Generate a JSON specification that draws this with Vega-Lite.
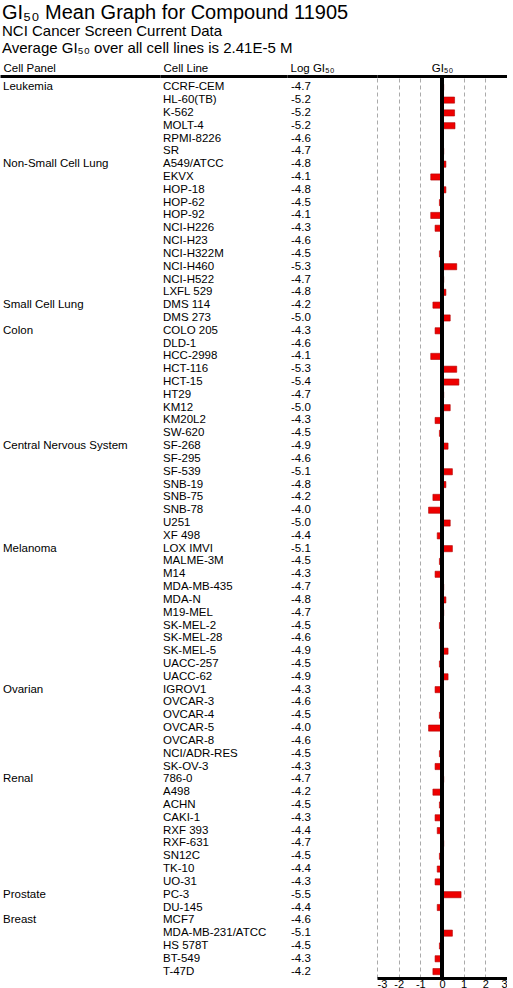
{
  "$schema": "https://vega.github.io/schema/vega-lite/v6.json",
  "description": "GI50 mean graph for compound 11905, NCI cancer screen.",
  "padding": {"left": 0, "right": 0, "top": 3, "bottom": 0},
  "spacing": 0,
  "bounds": "flush",
  "title": {
    "text": "GI₅₀ Mean Graph for Compound 11905",
    "subtitle": ["NCI Cancer Screen Current Data", "Average GI₅₀ over all cell lines is 2.41E-5 M"],
    "anchor": "start",
    "dx": 2,
    "offset": 6,
    "font": "Liberation Sans",
    "fontSize": 20,
    "fontWeight": "normal",
    "color": "black",
    "subtitleFont": "Liberation Sans",
    "subtitleFontSize": 15,
    "subtitleLineHeight": 17,
    "subtitlePadding": 1,
    "subtitleColor": "black"
  },
  "data": {
    "values": [
      {"p": "Leukemia", "c": "CCRF-CEM", "g": -4.7, "d": 0.08},
      {"p": "", "c": "HL-60(TB)", "g": -5.2, "d": 0.58},
      {"p": "", "c": "K-562", "g": -5.2, "d": 0.58},
      {"p": "", "c": "MOLT-4", "g": -5.2, "d": 0.6},
      {"p": "", "c": "RPMI-8226", "g": -4.6, "d": -0.02},
      {"p": "", "c": "SR", "g": -4.7, "d": 0.08},
      {"p": "Non-Small Cell Lung", "c": "A549/ATCC", "g": -4.8, "d": 0.18},
      {"p": "", "c": "EKVX", "g": -4.1, "d": -0.52},
      {"p": "", "c": "HOP-18", "g": -4.8, "d": 0.18},
      {"p": "", "c": "HOP-62", "g": -4.5, "d": -0.12},
      {"p": "", "c": "HOP-92", "g": -4.1, "d": -0.52},
      {"p": "", "c": "NCI-H226", "g": -4.3, "d": -0.32},
      {"p": "", "c": "NCI-H23", "g": -4.6, "d": -0.02},
      {"p": "", "c": "NCI-H322M", "g": -4.5, "d": -0.12},
      {"p": "", "c": "NCI-H460", "g": -5.3, "d": 0.68},
      {"p": "", "c": "NCI-H522", "g": -4.7, "d": 0.08},
      {"p": "", "c": "LXFL 529", "g": -4.8, "d": 0.18},
      {"p": "Small Cell Lung", "c": "DMS 114", "g": -4.2, "d": -0.42},
      {"p": "", "c": "DMS 273", "g": -5.0, "d": 0.38},
      {"p": "Colon", "c": "COLO 205", "g": -4.3, "d": -0.32},
      {"p": "", "c": "DLD-1", "g": -4.6, "d": -0.02},
      {"p": "", "c": "HCC-2998", "g": -4.1, "d": -0.52},
      {"p": "", "c": "HCT-116", "g": -5.3, "d": 0.68},
      {"p": "", "c": "HCT-15", "g": -5.4, "d": 0.78},
      {"p": "", "c": "HT29", "g": -4.7, "d": 0.08},
      {"p": "", "c": "KM12", "g": -5.0, "d": 0.38},
      {"p": "", "c": "KM20L2", "g": -4.3, "d": -0.32},
      {"p": "", "c": "SW-620", "g": -4.5, "d": -0.12},
      {"p": "Central Nervous System", "c": "SF-268", "g": -4.9, "d": 0.28},
      {"p": "", "c": "SF-295", "g": -4.6, "d": -0.02},
      {"p": "", "c": "SF-539", "g": -5.1, "d": 0.48},
      {"p": "", "c": "SNB-19", "g": -4.8, "d": 0.18},
      {"p": "", "c": "SNB-75", "g": -4.2, "d": -0.42},
      {"p": "", "c": "SNB-78", "g": -4.0, "d": -0.62},
      {"p": "", "c": "U251", "g": -5.0, "d": 0.38},
      {"p": "", "c": "XF 498", "g": -4.4, "d": -0.22},
      {"p": "Melanoma", "c": "LOX IMVI", "g": -5.1, "d": 0.48},
      {"p": "", "c": "MALME-3M", "g": -4.5, "d": -0.12},
      {"p": "", "c": "M14", "g": -4.3, "d": -0.32},
      {"p": "", "c": "MDA-MB-435", "g": -4.7, "d": 0.08},
      {"p": "", "c": "MDA-N", "g": -4.8, "d": 0.18},
      {"p": "", "c": "M19-MEL", "g": -4.7, "d": 0.08},
      {"p": "", "c": "SK-MEL-2", "g": -4.5, "d": -0.12},
      {"p": "", "c": "SK-MEL-28", "g": -4.6, "d": -0.02},
      {"p": "", "c": "SK-MEL-5", "g": -4.9, "d": 0.28},
      {"p": "", "c": "UACC-257", "g": -4.5, "d": -0.12},
      {"p": "", "c": "UACC-62", "g": -4.9, "d": 0.28},
      {"p": "Ovarian", "c": "IGROV1", "g": -4.3, "d": -0.32},
      {"p": "", "c": "OVCAR-3", "g": -4.6, "d": -0.02},
      {"p": "", "c": "OVCAR-4", "g": -4.5, "d": -0.12},
      {"p": "", "c": "OVCAR-5", "g": -4.0, "d": -0.62},
      {"p": "", "c": "OVCAR-8", "g": -4.6, "d": -0.02},
      {"p": "", "c": "NCI/ADR-RES", "g": -4.5, "d": -0.12},
      {"p": "", "c": "SK-OV-3", "g": -4.3, "d": -0.32},
      {"p": "Renal", "c": "786-0", "g": -4.7, "d": 0.08},
      {"p": "", "c": "A498", "g": -4.2, "d": -0.42},
      {"p": "", "c": "ACHN", "g": -4.5, "d": -0.12},
      {"p": "", "c": "CAKI-1", "g": -4.3, "d": -0.32},
      {"p": "", "c": "RXF 393", "g": -4.4, "d": -0.22},
      {"p": "", "c": "RXF-631", "g": -4.7, "d": 0.08},
      {"p": "", "c": "SN12C", "g": -4.5, "d": -0.12},
      {"p": "", "c": "TK-10", "g": -4.4, "d": -0.22},
      {"p": "", "c": "UO-31", "g": -4.3, "d": -0.32},
      {"p": "Prostate", "c": "PC-3", "g": -5.5, "d": 0.88},
      {"p": "", "c": "DU-145", "g": -4.4, "d": -0.22},
      {"p": "Breast", "c": "MCF7", "g": -4.6, "d": -0.02},
      {"p": "", "c": "MDA-MB-231/ATCC", "g": -5.1, "d": 0.48},
      {"p": "", "c": "HS 578T", "g": -4.5, "d": -0.12},
      {"p": "", "c": "BT-549", "g": -4.3, "d": -0.32},
      {"p": "", "c": "T-47D", "g": -4.2, "d": -0.42}
    ]
  },
  "hconcat": [
    {
      "width": 160,
      "height": 902,
      "mark": {"type": "text", "align": "left", "baseline": "middle", "dx": 3, "font": "Liberation Sans", "fontSize": 11.5, "color": "black"},
      "encoding": {
        "y": {"field": "c", "type": "nominal", "sort": null, "axis": null, "scale": {"type": "band", "paddingInner": 0, "paddingOuter": 0.19, "align": 1, "round": false}},
        "x": {"datum": 0, "type": "quantitative", "scale": {"domain": [0, 1]},
              "axis": {"orient": "top", "title": "Cell Panel", "titleAnchor": "start", "titleAlign": "left", "titleX": 3, "titlePadding": 3,
                       "domainColor": "black", "domainWidth": 3, "ticks": false, "labels": false, "grid": false}},
        "text": {"field": "p"}
      }
    },
    {
      "width": 127,
      "height": 902,
      "mark": {"type": "text", "align": "left", "baseline": "middle", "dx": 3, "font": "Liberation Sans", "fontSize": 11.5, "color": "black"},
      "encoding": {
        "y": {"field": "c", "type": "nominal", "sort": null, "axis": null, "scale": {"type": "band", "paddingInner": 0, "paddingOuter": 0.19, "align": 1, "round": false}},
        "x": {"datum": 0, "type": "quantitative", "scale": {"domain": [0, 1]},
              "axis": {"orient": "top", "title": "Cell Line", "titleAnchor": "start", "titleAlign": "left", "titleX": 3, "titlePadding": 3,
                       "domainColor": "black", "domainWidth": 3, "ticks": false, "labels": false, "grid": false}},
        "text": {"field": "c"}
      }
    },
    {
      "width": 90,
      "height": 902,
      "mark": {"type": "text", "align": "left", "baseline": "middle", "dx": 4, "font": "Liberation Sans", "fontSize": 11.5, "color": "black"},
      "encoding": {
        "y": {"field": "c", "type": "nominal", "sort": null, "axis": null, "scale": {"type": "band", "paddingInner": 0, "paddingOuter": 0.19, "align": 1, "round": false}},
        "x": {"datum": 0, "type": "quantitative", "scale": {"domain": [0, 1]},
              "axis": {"orient": "top", "title": "Log GI₅₀", "titleAnchor": "start", "titleAlign": "left", "titleX": 3, "titlePadding": 3,
                       "domainColor": "black", "domainWidth": 3, "ticks": false, "labels": false, "grid": false}},
        "text": {"field": "g", "type": "quantitative", "format": ".1f"}
      }
    },
    {
      "width": 130,
      "height": 902,
      "layer": [
        {
          "mark": {"type": "bar", "color": "#ee0000", "stroke": "#b00000", "strokeWidth": 0.6, "height": {"band": 0.48}},
          "encoding": {
            "y": {"field": "c", "type": "nominal", "sort": null, "axis": null, "scale": {"type": "band", "paddingInner": 0, "paddingOuter": 0.19, "align": 1, "round": false}},
            "x": {"field": "d", "type": "quantitative", "scale": {"domain": [-3, 3], "nice": false},
                  "axis": {"orient": "bottom", "title": null, "values": [-3, -2, -1, 0, 1, 2, 3], "domainColor": "black", "domainWidth": 3,
                           "ticks": false, "labelPadding": 0, "labelFontSize": 11, "labelColor": "black", "labelFont": "Liberation Sans",
                           "grid": true, "gridDash": [4, 3], "gridColor": "#aaaaaa", "gridWidth": 1}}
          }
        },
        {
          "mark": {"type": "rule", "color": "black", "strokeWidth": 2.5},
          "encoding": {
            "x": {"datum": 0, "type": "quantitative",
                  "axis": {"orient": "top", "title": "GI₅₀", "titlePadding": 3, "domainColor": "black", "domainWidth": 3,
                           "ticks": false, "labels": false, "grid": false}}
          }
        }
      ],
      "resolve": {"axis": {"x": "independent"}}
    }
  ],
  "config": {
    "locale": {"number": {"decimal": ".", "thousands": ",", "grouping": [3], "currency": ["$", ""], "minus": "-"}},
    "view": {"stroke": null},
    "font": "Liberation Sans",
    "axis": {"titleFont": "Liberation Sans", "titleFontSize": 11.5, "titleFontWeight": "normal", "titleColor": "black"}
  }
}
